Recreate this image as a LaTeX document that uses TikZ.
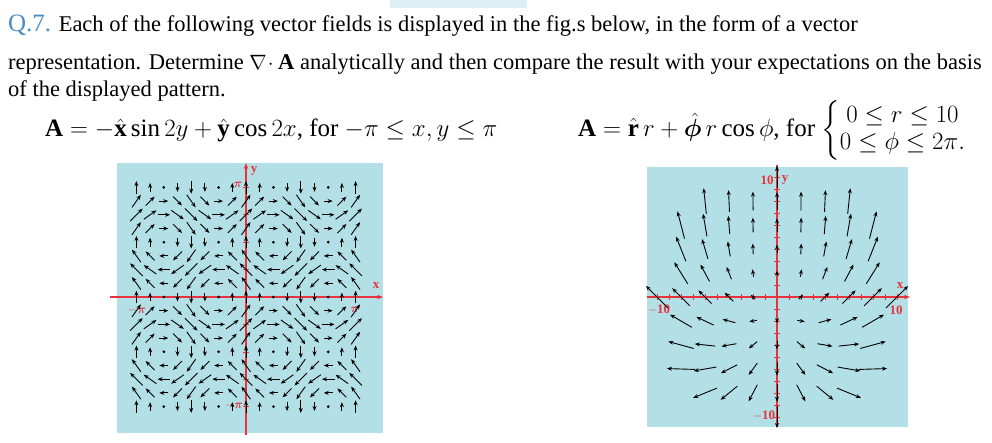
\documentclass[tikz,border=0pt]{standalone}
\usepackage{amsmath,bm}
\usepackage{fontspec}
\setmainfont{Liberation Serif}
\usetikzlibrary{arrows.meta}
\definecolor{panel}{HTML}{B3E0E6}
\definecolor{qblue}{HTML}{4A8CC8}
\definecolor{axred}{HTML}{E8323C}
\tikzset{
  txt/.style={anchor=base west,inner sep=0pt,font=\fontsize{22.5}{24}\selectfont},
  fml/.style={anchor=base west,inner sep=0pt,font=\fontsize{25}{27}\selectfont},
  vec/.style={line width=0.9pt,-{Stealth[length=5pt,width=4pt]}},
  axis/.style={axred,line width=1.2pt},
  axlab/.style={axred,inner sep=0pt,font=\bfseries\fontsize{13}{14}\selectfont}
}
\begin{document}
\begin{tikzpicture}[x=1pt,y=-1pt]
\useasboundingbox (0,0) rectangle (992,443);
\fill[panel!45] (390,0) rectangle (527,8);
\node[txt] (t1) at (8,32) {{\color{qblue}\fontsize{25}{26}\selectfont Q.7.} Each of the following vector fields is displayed in the fig.s below, in the form of a vector};
\node[txt] (t2) at (8,70) {representation. Determine $\nabla\!\cdot\mathbf{A}$ analytically and then compare the result with your expectations on the basis};
\node[txt] (t3) at (8,97) {of the displayed pattern.};
\node[fml] (f1) at (45,137) {$\mathbf{A}=-\hat{\mathbf{x}}\sin 2y+\hat{\mathbf{y}}\cos 2x$, for $-\pi\le x,y\le\pi$};
\node[fml] (f2) at (578,137) {$\mathbf{A}=\hat{\mathbf{r}}\,r+\hat{\bm{\phi}}\,r\cos\phi$, for $\left\{\begin{matrix}0\le r\le 10\\ 0\le\phi\le 2\pi.\end{matrix}\right.$};
% left panel
\fill[panel] (117,163) rectangle (383,433);
\draw[axis,-{Stealth[length=6pt]}] (110,297) -- (383,297);
\draw[axis,-{Stealth[length=6pt]}] (246,435) -- (246,163);
\foreach \k in {-4,...,4}{\draw[axred,line width=0.6pt] (243,{297-\k*27.4}) -- (249,{297-\k*27.4});}
\node[axlab] (lx) at (376,286) {x};
\node[axlab] (ly) at (254,171) {y};
\node[axlab] (lpx) at (355,310) {$\bm{\pi}$};
\node[axlab] (lmx) at (137,310) {$-\bm{\pi}$};
\node[axlab] (lpy) at (238,185) {$\bm{\pi}$};
\node[axlab] (lmy) at (234,405) {$-\bm{\pi}$};
\foreach \i in {-8,...,8}{
 \foreach \j in {-8,...,8}{
  \pgfmathsetmacro{\ax}{-sin(45*\j)}
  \pgfmathsetmacro{\ay}{cos(45*\i)}
  \pgfmathsetmacro{\m}{sqrt(\ax*\ax+\ay*\ay)}
  \pgfmathsetmacro{\px}{246+\i*13.7}
  \pgfmathsetmacro{\py}{297-\j*13.7}
  \ifdim \m pt<0.05pt
    \fill (\px,\py) circle (1.5);
  \else
    \draw[vec] ({\px-6.3*\ax},{\py+6.3*\ay}) -- ({\px+6.3*\ax},{\py-6.3*\ay});
  \fi
 }}
% right panel
\fill[panel] (647,167) rectangle (908,427);
\draw[axis,-{Stealth[length=6pt]}] (647,297) -- (910,297);
\draw[axis] (777,427) -- (777,165);
\foreach \k in {-10,...,10}{
  \draw[axred,line width=0.6pt] ({777+\k*12},294) -- ({777+\k*12},300);
  \draw[axred,line width=0.6pt] (774,{297-\k*12}) -- (780,{297-\k*12});}
\node[axlab] (rx) at (900,286) {x};
\node[axlab] (ry) at (785,180) {y};
\node[axlab] (r10) at (767,180) {10};
\node[axlab] (rm10) at (764,416) {$-$10};
\node[axlab] (rp10x) at (896,310) {10};
\node[axlab] (rm10x) at (659,310) {$-$10};
\foreach \i in {-10,-8,...,10}{
 \foreach \j in {-10,-8,...,10}{
  \pgfmathsetmacro{\r}{sqrt(\i*\i+\j*\j)}
  \ifdim \r pt>10.01pt\else\ifdim \r pt<0.5pt\else
   \pgfmathsetmacro{\ax}{\i-\i*\j/\r}
   \pgfmathsetmacro{\ay}{\j+\i*\i/\r}
   \pgfmathsetmacro{\px}{777+\i*12}
   \pgfmathsetmacro{\py}{297-\j*12}
   \draw[vec] ({\px-1.1*\ax},{\py+1.1*\ay}) -- ({\px+1.1*\ax},{\py-1.1*\ay});
  \fi\fi
 }}
\end{tikzpicture}
\end{document}
